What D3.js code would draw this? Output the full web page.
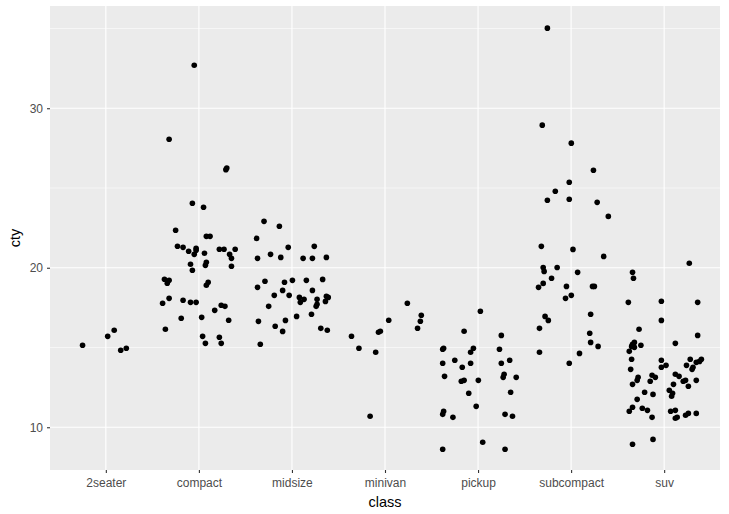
<!DOCTYPE html>
<meta charset="utf-8">
<script src="https://d3js.org/d3.v7.min.js"></script>
<style>
  body { margin: 0; background: #fff; }
  svg { display: block; font-family: "Liberation Sans", Arial, sans-serif; }
  .tick text { fill: #4d4d4d; font-size: 12px; }
  .tick line { stroke: #333; }
  .domain { display: none; }
</style>
<body></body>
<script>
  // categories + tick values
  var classes = ['2seater', 'compact', 'midsize', 'minivan', 'pickup', 'subcompact', 'suv'];
  var yTicks = [10, 20, 30];
  var yMinor = [15, 25, 35];

  // points per class: [jitter offset (in class units), cty (jittered)]
  var twoseater = [[-0.25, 15.14], [0.02, 15.70], [0.09, 16.08], [0.16, 14.83], [0.22, 14.95]];
  var compact = [[-0.05, 32.70], [-0.32, 28.06], [0.30, 26.25], [0.29, 26.15],
    [-0.07, 24.04], [0.05, 23.79], [-0.25, 22.35], [0.08, 21.97], [0.12, 21.97], [-0.23, 21.35],
    [-0.17, 21.28], [-0.11, 21.03], [-0.03, 21.22], [-0.03, 21.09], [-0.05, 20.84], [0.06, 20.91],
    [0.22, 21.16], [0.27, 21.16], [0.39, 21.16], [0.33, 20.84], [0.35, 20.59], [-0.09, 20.22],
    [-0.07, 19.84], [0.07, 20.15], [0.08, 20.34], [0.35, 20.09], [-0.37, 19.28], [-0.32, 19.21],
    [-0.34, 19.03], [0.08, 18.90], [0.10, 19.09], [-0.32, 18.08], [-0.39, 17.77], [-0.17, 17.96],
    [-0.09, 17.83], [-0.03, 17.83], [0.17, 17.33], [0.24, 17.65], [0.28, 17.58], [-0.19, 16.83],
    [0.03, 16.89], [0.32, 16.71], [-0.36, 16.14], [0.04, 15.70], [0.22, 15.64], [0.07, 15.26],
    [0.24, 15.26]];
  var midsize = [[-0.30, 22.91], [-0.135, 22.60], [-0.38, 21.84], [-0.04, 21.28], [0.24, 21.34],
    [-0.23, 20.84], [-0.37, 20.59], [-0.12, 20.65], [0.12, 20.59], [0.22, 20.59], [0.37, 20.65],
    [-0.29, 19.15], [-0.08, 19.09], [0.005, 19.21], [0.155, 19.21], [0.33, 19.27], [-0.37, 18.77],
    [-0.10, 18.58], [0.22, 18.58], [-0.19, 18.27], [-0.03, 18.27], [0.08, 18.14], [0.13, 18.02],
    [0.09, 17.83], [0.27, 18.02], [0.27, 17.71], [0.26, 17.58], [0.37, 18.21], [0.39, 18.14],
    [0.36, 17.89], [-0.25, 17.58], [0.21, 17.08], [0.05, 16.95], [-0.07, 16.70], [-0.36, 16.64],
    [-0.18, 16.33], [-0.10, 16.01], [0.31, 16.20], [0.38, 16.08], [-0.34, 15.20]];
  var minivan = [[0.24, 17.77], [0.39, 17.02], [0.38, 16.65], [0.04, 16.71], [0.35, 16.21],
    [-0.07, 15.96], [-0.05, 16.02], [-0.36, 15.71], [-0.28, 14.95], [-0.10, 14.70], [-0.16, 10.69]];
  var pickup = [[0.025, 17.27], [-0.15, 16.02], [0.25, 15.76], [-0.37, 14.95], [-0.38, 14.89],
    [-0.05, 14.95], [-0.08, 14.70], [0.23, 14.89], [-0.38, 14.01], [-0.25, 14.20], [-0.08, 14.01],
    [-0.17, 13.76], [0.25, 14.01], [0.34, 14.20], [-0.36, 13.19], [-0.18, 12.88], [-0.15, 12.94],
    [0.003, 12.94], [0.28, 13.32], [0.27, 13.13], [0.41, 13.13], [-0.10, 12.13], [0.35, 12.19],
    [-0.02, 11.31], [-0.37, 11.00], [-0.38, 10.81], [-0.27, 10.62], [0.29, 10.81], [0.37, 10.69],
    [0.05, 9.06], [-0.38, 8.62], [0.29, 8.62]];
  var subcompact = [[-0.255, 35.02], [-0.31, 28.94], [0.002, 27.81], [0.24, 26.11], [-0.02, 25.36],
    [-0.17, 24.80], [-0.255, 24.23], [-0.02, 24.29], [0.28, 24.10], [0.40, 23.22], [-0.32, 21.34],
    [0.02, 21.15], [0.35, 20.71], [-0.30, 20.02], [-0.29, 19.77], [-0.15, 20.02], [0.07, 19.71],
    [-0.21, 19.34], [-0.30, 19.02], [-0.35, 18.77], [-0.05, 18.83], [0.23, 18.83], [0.25, 18.83],
    [0.002, 18.27], [-0.06, 18.08], [-0.28, 16.95], [-0.245, 16.70], [0.21, 17.08], [-0.34, 16.20],
    [0.20, 15.89], [0.21, 15.32], [0.29, 15.07], [-0.34, 14.70], [0.09, 14.63], [-0.02, 14.01]];
  var suv = [[0.27, 20.28], [-0.34, 19.71], [-0.33, 19.34], [-0.385, 17.83], [-0.03, 17.90],
    [0.36, 17.83], [-0.03, 16.70], [0.36, 15.76], [-0.27, 16.14], [-0.32, 15.32], [-0.34, 15.20],
    [-0.35, 15.07], [-0.32, 15.01], [-0.25, 15.14], [0.12, 15.26], [-0.375, 14.76], [-0.35, 14.26],
    [-0.03, 14.20], [0.28, 14.26], [0.02, 13.88], [-0.03, 13.76], [0.24, 13.88], [0.40, 14.26],
    [0.38, 14.13], [0.345, 14.07], [0.31, 13.76], [0.30, 13.63], [-0.36, 13.63], [-0.28, 13.13],
    [-0.29, 12.94], [-0.34, 12.69], [-0.13, 13.26], [-0.095, 13.13], [-0.15, 12.88], [0.12, 13.32],
    [0.16, 13.19], [0.10, 12.69], [0.205, 12.88], [0.23, 12.94], [0.345, 12.94], [0.26, 12.57],
    [-0.21, 12.19], [-0.12, 12.06], [0.055, 12.32], [0.09, 12.13], [0.08, 11.94], [-0.29, 11.75],
    [-0.34, 11.25], [-0.375, 11.00], [-0.235, 11.19], [-0.18, 11.06], [-0.13, 10.62], [0.07, 11.00],
    [0.12, 11.06], [0.12, 10.56], [0.14, 10.62], [0.23, 10.75], [0.26, 10.87], [0.345, 10.87],
    [-0.34, 8.93], [-0.12, 9.24]];
  var byClass = [twoseater, compact, midsize, minivan, pickup, subcompact, suv];

  // layout
  var width = 729, height = 514;
  var panel = {left: 50, right: 720, top: 6, bottom: 470};

  var svg = d3.select('body').append('svg')
    .attr('width', width)
    .attr('height', height);

  // discrete x with 0.6 expansion each side
  var xScale = d3.scaleLinear()
    .domain([-0.6, classes.length - 1 + 0.6])
    .range([panel.left, panel.right]);
  var yScale = d3.scaleLinear()
    .domain([7.32, 36.41])
    .range([panel.bottom, panel.top]);

  // panel background
  svg.append('rect')
    .attr('x', panel.left).attr('y', panel.top)
    .attr('width', panel.right - panel.left)
    .attr('height', panel.bottom - panel.top)
    .attr('fill', '#ebebeb');

  // grid
  var grid = svg.append('g');
  grid.selectAll('.minor').data(yMinor).enter().append('line')
    .attr('x1', panel.left).attr('x2', panel.right)
    .attr('y1', d => yScale(d)).attr('y2', d => yScale(d))
    .attr('stroke', '#fff').attr('stroke-width', 0.55);
  grid.selectAll('.majy').data(yTicks).enter().append('line')
    .attr('x1', panel.left).attr('x2', panel.right)
    .attr('y1', d => yScale(d)).attr('y2', d => yScale(d))
    .attr('stroke', '#fff').attr('stroke-width', 1.1);
  grid.selectAll('.majx').data(classes).enter().append('line')
    .attr('x1', (d, i) => xScale(i)).attr('x2', (d, i) => xScale(i))
    .attr('y1', panel.top).attr('y2', panel.bottom)
    .attr('stroke', '#fff').attr('stroke-width', 1.1);

  // points
  var points = [];
  byClass.forEach(function(arr, i) {
    arr.forEach(function(p) { points.push({cls: classes[i], x: i + p[0], cty: p[1]}); });
  });
  svg.append('g').selectAll('circle')
    .data(points)
    .enter().append('circle')
    .attr('cx', d => xScale(d.x))
    .attr('cy', d => yScale(d.cty))
    .attr('r', 2.8)
    .attr('fill', '#000');

  // axes
  var xAxis = d3.axisBottom(xScale)
    .tickValues(d3.range(classes.length))
    .tickFormat(i => classes[i])
    .tickSize(3).tickPadding(5);
  svg.append('g')
    .attr('transform', 'translate(0,' + panel.bottom + ')')
    .call(xAxis);

  var yAxis = d3.axisLeft(yScale)
    .tickValues(yTicks)
    .tickSize(3).tickPadding(4);
  svg.append('g')
    .attr('transform', 'translate(' + panel.left + ',0)')
    .call(yAxis);

  svg.selectAll('.tick line').attr('stroke-width', 1.1);

  // titles
  svg.append('text')
    .attr('x', (panel.left + panel.right) / 2)
    .attr('y', 507)
    .attr('text-anchor', 'middle')
    .attr('font-size', 14.5)
    .attr('fill', '#000')
    .text('class');
  svg.append('text')
    .attr('transform', 'translate(20,' + (panel.top + panel.bottom) / 2 + ') rotate(-90)')
    .attr('text-anchor', 'middle')
    .attr('font-size', 14.5)
    .attr('fill', '#000')
    .text('cty');
</script>
